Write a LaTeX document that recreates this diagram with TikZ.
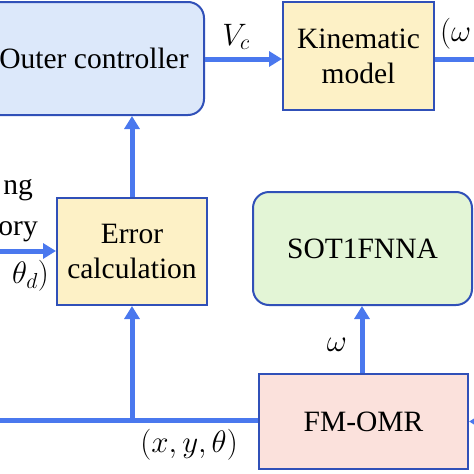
\RequirePackage{fix-cm}
\documentclass[tikz,border=0pt]{standalone}
\usepackage{fontspec}
\setmainfont{Liberation Serif}
\usetikzlibrary{arrows.meta}
\definecolor{arrowblue}{HTML}{4A78EE}
\definecolor{edgeblue}{HTML}{3050B8}
\definecolor{fillblue}{HTML}{DCE8FA}
\definecolor{fillyellow}{HTML}{FDF1C6}
\definecolor{fillgreen}{HTML}{E3F5D6}
\definecolor{fillpink}{HTML}{FBE1DC}
\begin{document}
\begin{tikzpicture}[x=1pt,y=-1pt,
  every node/.style={font=\fontsize{29.5}{35}\selectfont},
  blk/.style={draw=edgeblue,line width=2pt,align=center,inner sep=0pt},
  rblk/.style={blk,rounded corners=16pt},
  conn/.style={draw=arrowblue,line width=5pt},
  arr/.style={conn,-{Triangle[length=13pt,width=15pt]}},
  lbl/.style={inner sep=0pt},
  mlbl/.style={inner sep=0pt,font=\fontsize{31}{34}\selectfont}]
\useasboundingbox (0,0) rectangle (474,474);
\node[rblk,fill=fillblue,minimum width=220pt,minimum height=113pt] (outer) at (94,58.5) {Outer controller};
\node[blk,fill=fillyellow,minimum width=151pt,minimum height=108pt] (kin) at (358.5,56) {Kinematic\\model};
\node[blk,fill=fillyellow,minimum width=150pt,minimum height=107pt] (err) at (132,251.5) {Error\\calculation};
\node[rblk,fill=fillgreen,minimum width=219pt,minimum height=113pt] (sot) at (362.5,248.5) {SOT1FNNA};
\node[blk,fill=fillpink,minimum width=209pt,minimum height=95pt] (fm) at (363.5,421.5) {FM-OMR};
\coordinate (inL) at (-2,251);
\coordinate (outR) at (478,59);
\coordinate (fbL) at (-2,420);
\coordinate (fbJ) at (132,420);
\coordinate (inR) at (480,421.5);
\draw[arr] (outer.east |- 0,59) -- (kin.west |- 0,59);
\draw[conn] (kin.east |- 0,59) -- (outR);
\draw[arr] (err.north) -- (outer.south -| err.north);
\draw[arr] (inL) -- (err.west |- inL);
\draw[conn] (fbL) -- (fm.west |- fbL);
\draw[arr] (fbJ) -- (err.south);
\draw[arr] (fm.north -| 362,0) -- (sot.south -| 362,0);
\draw[arr] (inR) -- (fm.east |- inR);
\node[lbl,anchor=east] (t1) at (33,190) {ng};
\node[lbl,anchor=east] (t2) at (38,232) {ory};
\node[mlbl,anchor=east] (t3) at (49,276) {$\theta_d)$};
\node[mlbl] (vc) at (236,37) {$V_c$};
\node[mlbl,anchor=west] (om1) at (440,34) {$(\omega$};
\node[mlbl] (om2) at (337,345) {$\omega$};
\node[mlbl,anchor=east] (xyt) at (238,445) {$(x,y,\theta)$};
\end{tikzpicture}
\end{document}
